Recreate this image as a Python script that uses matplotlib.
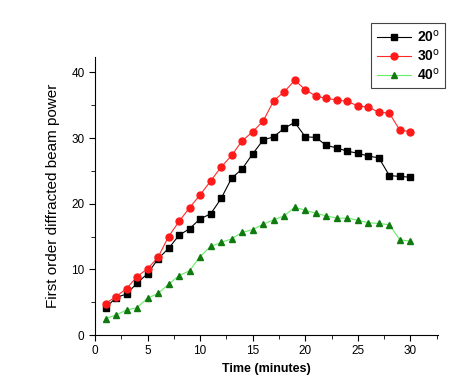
import matplotlib
matplotlib.use("Agg")
import matplotlib.pyplot as plt
from matplotlib.ticker import MultipleLocator

plt.rcParams['font.family'] = ['Liberation Sans', 'DejaVu Sans']

# time in minutes
t = list(range(1, 31))

p20 = [4.1, 5.7, 6.25, 7.9, 9.35, 11.6, 13.2, 15.2, 16.2, 17.7,
       18.45, 20.8, 23.9, 25.3, 27.6, 29.7, 30.2, 31.5, 32.4, 30.2,
       30.1, 28.9, 28.5, 28.0, 27.7, 27.25, 27.0, 24.3, 24.15, 24.05]
p30 = [4.8, 5.85, 7.07, 8.9, 10.1, 11.85, 15.0, 17.3, 19.4, 21.35,
       23.45, 25.6, 27.35, 29.6, 30.95, 32.6, 35.7, 37.05, 38.8, 37.4,
       36.4, 36.05, 35.8, 35.6, 34.9, 34.7, 33.95, 33.8, 31.2, 31.0]
p40 = [2.5, 3.05, 3.8, 4.17, 5.6, 6.35, 7.72, 9.05, 9.8, 11.95,
       13.5, 14.1, 14.65, 15.65, 16.05, 16.9, 17.55, 18.15, 19.47, 19.0,
       18.55, 18.15, 17.8, 17.8, 17.5, 17.1, 17.0, 16.8, 14.5, 14.3]

fig = plt.figure(figsize=(4.74, 3.81), dpi=100)
ax = fig.add_axes([0.2004, 0.1207, 0.723, 0.7305])

ax.plot(t, p20, '-s', color='black', lw=0.8, ms=4.5,
        mfc='black', mec='black', label=r'20$^{\rm o}$')
ax.plot(t, p30, '-o', color='#ff2a2a', lw=0.8, ms=5,
        mfc='#ff1a1a', mec='#ff1a1a', label=r'30$^{\rm o}$')
ax.plot(t, p40, '-^', color='#66ee66', lw=0.8, ms=5,
        mfc='#107a10', mec='#107a10', label=r'40$^{\rm o}$')

ax.set_xlim(0, 32.6)
ax.set_ylim(0, 42.4)
ax.xaxis.set_major_locator(MultipleLocator(5))
ax.xaxis.set_minor_locator(MultipleLocator(2.5))
ax.yaxis.set_major_locator(MultipleLocator(10))
ax.yaxis.set_minor_locator(MultipleLocator(5))
ax.tick_params(which='both', direction='out', labelsize=8.5)
ax.tick_params(which='major', length=4)
ax.tick_params(which='minor', length=3)
for s in ['top', 'right']:
    ax.spines[s].set_visible(False)

ax.set_xlabel('Time (minutes)', fontweight='bold', fontsize=9)
ax.set_ylabel('First order diffracted beam power', fontsize=11, labelpad=8)

leg = fig.legend(loc='upper left', bbox_to_anchor=(0.783, 0.94),
                 borderaxespad=0, prop={'weight': 'bold', 'size': 10},
                 fancybox=False, edgecolor='#444444', handlelength=2.5,
                 handletextpad=0.4, borderpad=0.4, labelspacing=0.22,
                 framealpha=1)
leg.get_frame().set_linewidth(0.8)

fig.savefig('out.png', dpi=100)
